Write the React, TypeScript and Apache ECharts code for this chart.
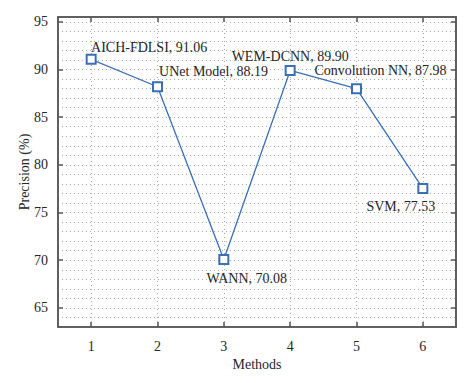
import React, { useEffect, useRef } from "react";
import * as echarts from "echarts";

const methods = [1, 2, 3, 4, 5, 6];
const methodNames = ["AICH-FDLSI", "UNet Model", "WANN", "WEM-DCNN", "Convolution NN", "SVM"];
const precision = [91.06, 88.19, 70.08, 89.9, 87.98, 77.53];
const yTicks = [65, 70, 75, 80, 85, 90, 95];
const xTicks = [1, 2, 3, 4, 5, 6];

const labelOffsets: [number, number][] = [
  [58, -12],
  [56, -15],
  [23, 19],
  [0, -14],
  [24, -18],
  [-22, 18],
];

const FONT = "Liberation Serif";
const TEXT = "#262626";
const AXIS = "#555";
const BLUE = "#3a6fb8";

export default function App() {
  const ref = useRef<HTMLDivElement>(null);
  useEffect(() => {
    if (!ref.current) return;
    const chart = echarts.init(ref.current, null, { renderer: "svg" });
    const data = methods.map((m, i) => ({
      value: [m, precision[i]],
      name: methodNames[i],
      label: {
        show: true,
        position: "inside",
        offset: labelOffsets[i],
        formatter: `${methodNames[i]}, ${precision[i].toFixed(2)}`,
      },
    }));
    chart.setOption({
      animation: false,
      backgroundColor: "#fff",
      textStyle: { fontFamily: FONT },
      grid: {
        left: 58,
        right: 18,
        top: 17,
        bottom: 56,
        show: true,
        borderColor: AXIS,
        borderWidth: 1.5,
        backgroundColor: "transparent",
      },
      xAxis: [
        {
          type: "value",
          min: 0.5,
          max: 6.5,
          name: "Methods",
          nameLocation: "middle",
          nameGap: 30,
          nameMoveOverlap: false,
          nameTextStyle: { fontFamily: FONT, fontSize: 14, color: TEXT },
          axisLine: { show: true, lineStyle: { color: AXIS, width: 1.5 } },
          axisTick: { show: true, inside: true, length: 5, customValues: xTicks, lineStyle: { color: AXIS, width: 1.5 } },
          axisLabel: { customValues: xTicks, fontFamily: FONT, fontSize: 14, color: TEXT, margin: 12 },
          splitLine: { show: true, lineStyle: { color: "#aaa", type: [1, 3], width: 1 } },
        },
        {
          type: "value",
          position: "top",
          min: 0.5,
          max: 6.5,
          axisLine: { show: true, lineStyle: { color: AXIS, width: 1.5 } },
          axisTick: { show: true, inside: true, length: 5, customValues: xTicks, lineStyle: { color: AXIS, width: 1.5 } },
          axisLabel: { show: false, customValues: xTicks },
          splitLine: { show: false },
        },
      ],
      yAxis: [
        {
          type: "value",
          min: 63,
          max: 95.5,
          name: "Precision (%)",
          nameLocation: "middle",
          nameGap: 27,
          nameMoveOverlap: false,
          nameTextStyle: { fontFamily: FONT, fontSize: 14, color: TEXT },
          axisLine: { show: true, lineStyle: { color: AXIS, width: 1.5 } },
          axisTick: { show: true, inside: true, length: 5, customValues: yTicks, lineStyle: { color: AXIS, width: 1.5 } },
          axisLabel: { customValues: yTicks, fontFamily: FONT, fontSize: 14, color: TEXT, margin: 10 },
          splitLine: { show: false },
        },
        {
          type: "value",
          position: "right",
          min: 63,
          max: 95.5,
          axisLine: { show: true, lineStyle: { color: AXIS, width: 1.5 } },
          axisTick: { show: true, inside: true, length: 5, customValues: yTicks, lineStyle: { color: AXIS, width: 1.5 } },
          axisLabel: { show: false, customValues: yTicks },
          splitLine: { show: false },
        },
        {
          type: "value",
          position: "left",
          min: 63,
          max: 95.5,
          interval: 1,
          axisLine: { show: false },
          axisTick: { show: false },
          axisLabel: { show: false },
          splitLine: { show: true, lineStyle: { color: "#aaa", type: [1, 3], width: 1 } },
        },
      ],
      series: [
        {
          type: "line",
          xAxisIndex: 0,
          yAxisIndex: 0,
          data,
          symbol: "emptyRect",
          symbolSize: 9,
          z: 5,
          lineStyle: { color: BLUE, width: 1.3 },
          itemStyle: { color: BLUE, borderWidth: 1.3 },
          label: {
            fontFamily: FONT,
            fontSize: 14,
            color: TEXT,
          },
        },
      ],
    });
    return () => chart.dispose();
  }, []);
  return (
    <div
      ref={ref}
      style={{ position: "fixed", left: 0, top: 0, width: 474, height: 383 }}
    />
  );
}
